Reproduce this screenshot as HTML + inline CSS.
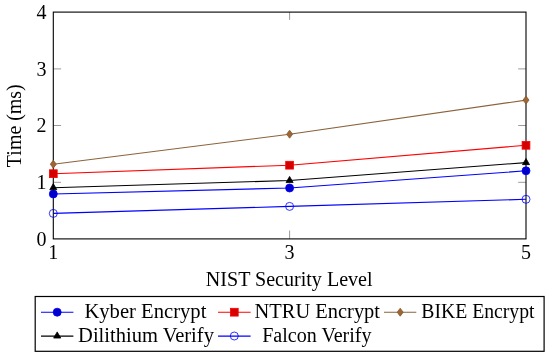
<!DOCTYPE html>
<html><head><meta charset="utf-8"><title>NIST Security Level chart</title>
<style>
html,body{margin:0;padding:0;background:#fff;width:550px;height:358px;overflow:hidden}
svg{display:block}
text{font-family:"Liberation Serif",serif;fill:#000}
</style></head><body>
<svg width="550" height="358" viewBox="0 0 550 358">
<rect width="550" height="358" fill="#fff"/>
<!-- ticks -->
<g stroke="#7a7a7a" stroke-width="0.75" fill="none">
<path d="M53.3 182.3h7.8M53.3 125.5h7.8M53.3 68.9h7.8M526 182.3h-7.8M526 125.5h-7.8M526 68.9h-7.8M289.6 238.9v-8.4M289.6 12.1v7.8"/>
</g>
<!-- axis box -->
<rect x="53.3" y="12.1" width="472.7" height="226.8" fill="none" stroke="#000" stroke-width="1.1"/>
<!-- y tick labels -->
<g font-size="20" text-anchor="end">
<text x="46.6" y="245.6">0</text>
<text x="46.6" y="188.9">1</text>
<text x="46.6" y="132.2">2</text>
<text x="46.6" y="75.5">3</text>
<text x="46.6" y="18.8">4</text>
</g>
<g font-size="20" text-anchor="middle">
<text x="53.3" y="258.9">1</text>
<text x="289.6" y="258.9">3</text>
<text x="526" y="258.9">5</text>
</g>
<text font-size="20" text-anchor="middle" x="289.2" y="285.5" textLength="166.8" lengthAdjust="spacingAndGlyphs">NIST Security Level</text>
<text font-size="20" text-anchor="middle" transform="translate(20.8 125.7) rotate(-90)" textLength="82.9" lengthAdjust="spacingAndGlyphs">Time (ms)</text>
<!-- series -->
<g fill="none" stroke-width="1.1" stroke-linejoin="round">
<polyline stroke="#0000ff" points="53.3,213.4 289.6,206.4 526,199.3"/>
<polyline stroke="#0000ff" points="53.3,194.0 289.6,188.0 526,170.8"/>
<polyline stroke="#000" points="53.3,187.7 289.6,180.5 526,162.6"/>
<polyline stroke="#ff0000" points="53.3,173.7 289.6,165.2 526,145.3"/>
<polyline stroke="#8a633b" points="53.3,164.2 289.6,134.2 526,100.1"/>
</g>
<!-- marks -->
<g fill="none" stroke="#0000ff" stroke-width="0.8">
<circle cx="53.3" cy="213.4" r="4"/><circle cx="289.6" cy="206.4" r="4"/><circle cx="526" cy="199.3" r="4"/>
</g>
<g fill="#0000cc" stroke="#0000ff" stroke-width="0.8">
<circle cx="53.3" cy="194" r="4"/><circle cx="289.6" cy="188" r="4"/><circle cx="526" cy="170.8" r="4"/>
</g>
<g fill="#000" stroke="#000" stroke-width="0.8">
<path d="M53.30 183.60L56.85 189.75L49.75 189.75Z"/><path d="M289.60 176.40L293.15 182.55L286.05 182.55Z"/><path d="M526.00 158.50L529.55 164.65L522.45 164.65Z"/>
</g>
<g fill="#d40000" stroke="#ff0000" stroke-width="0.8">
<rect x="49.40" y="169.80" width="7.8" height="7.8"/><rect x="285.70" y="161.30" width="7.8" height="7.8"/><rect x="522.10" y="141.40" width="7.8" height="7.8"/>
</g>
<g fill="#9e6634" stroke="#85582c" stroke-width="0.8">
<path d="M53.30 160.20L56.30 164.20L53.30 168.20L50.30 164.20Z"/><path d="M289.60 130.20L292.60 134.20L289.60 138.20L286.60 134.20Z"/><path d="M526.00 96.10L529.00 100.10L526.00 104.10L523.00 100.10Z"/>
</g>
<!-- legend -->
<rect x="35.2" y="296.5" width="508.9" height="54.8" fill="#fff" stroke="#000" stroke-width="1.2"/>
<g fill="none" stroke-width="1.1">
<path stroke="#0000ff" d="M41 312.2H73.4"/>
<path stroke="#ff0000" d="M218 312.2H250.6"/>
<path stroke="#8a633b" d="M384 312.2H416.3"/>
<path stroke="#000" d="M41 336.1H73.4"/>
<path stroke="#0000ff" d="M218 336.1H250.6"/>
</g>
<circle cx="57.2" cy="312.2" r="4" fill="#0000cc" stroke="#0000ff" stroke-width="0.8"/>
<rect x="230.40" y="308.30" width="7.8" height="7.8" fill="#d40000" stroke="#ff0000" stroke-width="0.8"/>
<path d="M400.20 308.20L403.20 312.20L400.20 316.20L397.20 312.20Z" fill="#9e6634" stroke="#85582c" stroke-width="0.8"/>
<path d="M57.20 331.90L60.75 338.05L53.65 338.05Z" fill="#000" stroke="#000" stroke-width="0.8"/>
<circle cx="234.3" cy="336" r="4" fill="none" stroke="#0000ff" stroke-width="0.8"/>
<g font-size="20" text-anchor="middle">
<text x="145.4" y="317.8" textLength="122.0" lengthAdjust="spacingAndGlyphs">Kyber Encrypt</text>
<text x="317.3" y="317.8" textLength="125.4" lengthAdjust="spacingAndGlyphs">NTRU Encrypt</text>
<text x="477.9" y="317.8" textLength="113.3" lengthAdjust="spacingAndGlyphs">BIKE Encrypt</text>
<text x="146" y="341.5" textLength="135.8" lengthAdjust="spacingAndGlyphs">Dilithium Verify</text>
<text x="316.9" y="341.5" textLength="109.4" lengthAdjust="spacingAndGlyphs">Falcon Verify</text>
</g>
</svg>
</body></html>
